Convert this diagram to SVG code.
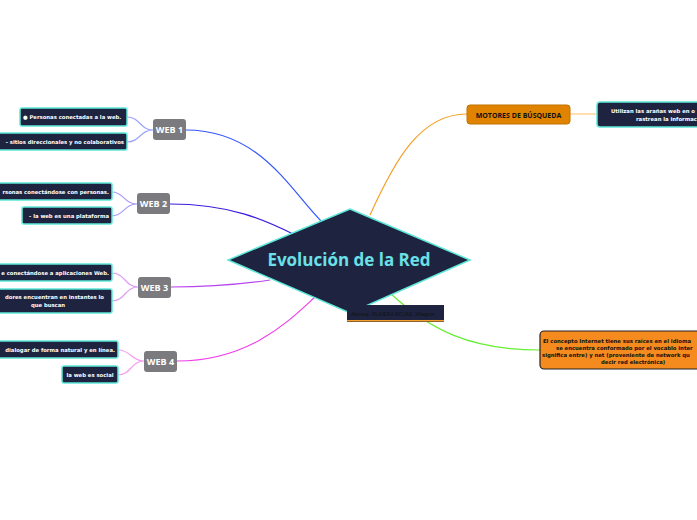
<svg xmlns="http://www.w3.org/2000/svg" width="697" height="520" viewBox="0 0 697 520">
<style>
.leaf{fill:#1e2440;stroke:#5ee8d8;stroke-width:1.5}
.lt{font-family:"DejaVu Sans","Liberation Sans",sans-serif;font-size:5.3px;font-weight:bold;fill:#fff}
.web{fill:#7b7b7f}
.wt{font-family:"Open Sans","Liberation Sans",sans-serif;font-size:9px;font-weight:bold;fill:#fff;text-anchor:middle}
.c{fill:none;stroke-width:1.2}
</style>
<rect width="697" height="520" fill="#fff"/>
<g id="connectors">
<path class="c" stroke="#3355ff" d="M186,130 C260,130 290,190 322,222"/>
<path class="c" stroke="#9aa4ff" d="M153,130 C140,130 140,117 127,117 M153,130 C140,130 140,142 127,142"/>
<path class="c" stroke="#3a1ee0" d="M170,204 C230,204 265,220 295,235"/>
<path class="c" stroke="#a99cf5" d="M137,204 C124,204 124,192 112,192 M137,204 C124,204 124,216 112,216"/>
<path class="c" stroke="#b844ee" d="M171,287 C220,287 250,283 270,280"/>
<path class="c" stroke="#dc9cf5" d="M138,287 C125,287 125,273 112,273 M138,287 C125,287 125,301 112,301"/>
<path class="c" stroke="#ee3ee8" d="M177,361 C250,361 290,320 315,297"/>
<path class="c" stroke="#f59cf0" d="M144,361 C131,361 131,350 118,350 M144,361 C131,361 131,375 118,375"/>
<path class="c" stroke="#f5a028" d="M370,215 C395,160 420,114 467,114"/>
<path class="c" stroke="#ffc880" d="M570,114 L597,114"/>
<path class="c" stroke="#66ee33" d="M390,293 C430,330 470,350 540,350"/>
</g>
<g id="center">
<polygon points="350,209 470,260 350,313 228,260" fill="#1e2440" stroke="#5ee8d8" stroke-width="1.5"/>
<text x="349" y="266" text-anchor="middle" font-family="'Open Sans','Liberation Sans',sans-serif" font-size="17" font-weight="bold" fill="#6be0e6">Evolución de la Red</text>
</g>
<g id="alumna">
<rect x="347" y="305" width="97" height="17" fill="#1e2440"/>
<rect x="347" y="320" width="97" height="1.5" fill="#f5a028"/>
<text x="351" y="316" font-family="'Liberation Sans',sans-serif" font-size="5.2" fill="#111">Alumna: OLIVERA ROJAS, Milagros</text>
</g>
<g id="web1">
<rect class="web" x="153" y="119" width="33" height="21" rx="3"/>
<text class="wt" x="169.5" y="133">WEB 1</text>
</g>
<g id="web1a"><rect class="leaf" x="20" y="108" width="107" height="18" rx="2"/><text class="lt" x="23" y="119">● Personas conectadas a la web.</text></g>
<g id="web1b"><rect class="leaf" x="-3" y="133" width="130" height="17" rx="2"/><text class="lt" x="124" y="144" text-anchor="end">- sitios direccionales y no colaborativos</text></g>
<g id="web2">
<rect class="web" x="137" y="193" width="33" height="21" rx="3"/>
<text class="wt" x="153.5" y="207">WEB 2</text>
</g>
<g id="web2a"><rect class="leaf" x="-3" y="183" width="115" height="17" rx="2"/><text class="lt" x="109" y="194" text-anchor="end">rsonas conectándose con personas.</text></g>
<g id="web2b"><rect class="leaf" x="22" y="207" width="90" height="17" rx="2"/><text class="lt" x="109" y="218" text-anchor="end">- la web es una plataforma</text></g>
<g id="web3">
<rect class="web" x="138" y="277" width="33" height="21" rx="3"/>
<text class="wt" x="154.5" y="291">WEB 3</text>
</g>
<g id="web3a"><rect class="leaf" x="-3" y="264" width="115" height="17" rx="2"/><text class="lt" x="109" y="275" text-anchor="end">e conectándose a aplicaciones Web.</text></g>
<g id="web3b"><rect class="leaf" x="-3" y="289" width="115" height="24" rx="2"/><text class="lt" x="104" y="299" text-anchor="end">dores encuentran en instantes lo</text><text class="lt" x="48" y="307" text-anchor="middle">que buscan</text></g>
<g id="web4">
<rect class="web" x="144" y="351" width="33" height="21" rx="3"/>
<text class="wt" x="160.5" y="365">WEB 4</text>
</g>
<g id="web4a"><rect class="leaf" x="-3" y="341" width="121" height="17" rx="2"/><text class="lt" x="115" y="352" text-anchor="end">dialogar de forma natural y en línea.</text></g>
<g id="web4b"><rect class="leaf" x="62" y="366" width="56" height="17" rx="2"/><text class="lt" x="90" y="377" text-anchor="middle">la web es social</text></g>
<g id="motores">
<rect x="467" y="105" width="103" height="19" rx="3" fill="#e08400" stroke="#c07000"/>
<text x="518.5" y="117.5" text-anchor="middle" font-family="'Open Sans','Liberation Sans',sans-serif" font-size="7" font-weight="bold" fill="#111">MOTORES DE BÚSQUEDA</text>
</g>
<g id="utilizan">
<rect class="leaf" x="597" y="102" width="110" height="25" rx="3"/>
<text class="lt" x="611" y="113">Utilizan las arañas web en o</text>
<text class="lt" x="636" y="121">rastrean la informac</text>
</g>
<g id="concepto">
<rect x="540" y="331" width="170" height="38" rx="4" fill="#f58a1e" stroke="#222" stroke-width="1.2"/>
<g font-family="'DejaVu Sans','Liberation Sans',sans-serif" font-size="5.3" font-weight="bold" fill="#111">
<text x="543" y="343">El concepto Internet tiene sus raíces en el idioma</text>
<text x="556" y="350">se encuentra conformado por el vocablo inter</text>
<text x="542" y="357">significa entre) y net (proveniente de network qu</text>
<text x="601" y="364">decir red electrónica)</text>
</g>
</g>
</svg>
